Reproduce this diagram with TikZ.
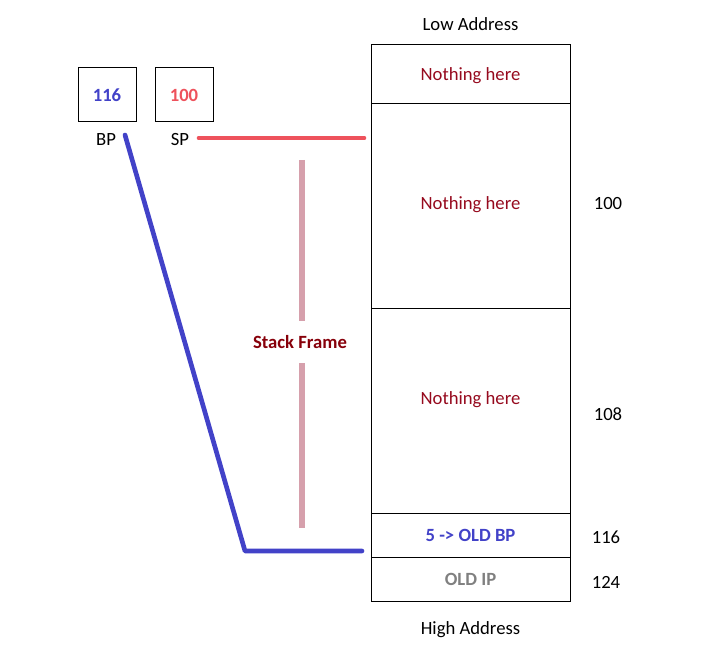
\documentclass[tikz,border=0pt]{standalone}
\usepackage{fontspec}
\setmainfont{Carlito}
\usepackage{tikz}

\definecolor{bpblue}{RGB}{66,66,200}
\definecolor{spred}{RGB}{238,82,92}
\definecolor{nothingred}{RGB}{150,10,30}
\definecolor{framered}{RGB}{135,0,10}
\definecolor{framepink}{RGB}{214,160,172}
\definecolor{ipgrey}{RGB}{128,128,128}

\begin{document}
\begin{tikzpicture}[x=0.75pt, y=-0.75pt,
    every node/.style={font=\fontsize{14}{17}\selectfont},
    cell/.style={draw, line width=0.75pt, minimum width=149.25pt, inner sep=0pt},
    regbox/.style={draw, line width=0.75pt, minimum width=43.5pt, minimum height=40.5pt, font=\fontsize{14}{17}\selectfont\bfseries},
    pointer/.style={line width=3.5pt, line cap=round, line join=round}]
    \useasboundingbox (0,0) rectangle (702,648);
    % Draw the stack cells
    \node[cell, minimum height=44.25pt] (low) at (470.5,74.5) {};
    \node[cell, minimum height=153pt] (mid) at (470.5,206) {};
    \node[cell, minimum height=153.75pt] (high) at (470.5,410.5) {};
    \node[cell, minimum height=33pt, text=bpblue, font=\fontsize{14}{17}\selectfont\bfseries] (oldbp) at (470.5,535) {5 -> OLD BP};
    \node[cell, minimum height=33pt, text=ipgrey, font=\fontsize{14}{17}\selectfont\bfseries] (oldip) at (470.5,579) {OLD IP};
    \node[text=nothingred] (lowtext) at (470.5,75.5) {Nothing here};
    \node[text=nothingred] (midtext) at (470.5,204.5) {Nothing here};
    \node[text=nothingred] (hightext) at (470.5,399.5) {Nothing here};
    % Draw the addresses
    \node (lowaddr) at (470.5,24) {Low Address};
    \node (highaddr) at (470.5,629.5) {High Address};
    \node (a100) at (608,204) {100};
    \node (a108) at (608,414) {108};
    \node (a116) at (606,537) {116};
    \node (a124) at (606,582) {124};
    % Draw the registers
    \node[regbox, text=bpblue] (bp) at (107,95) {116};
    \node[regbox, text=spred] (sp) at (184,95) {100};
    \node (bplabel) at (106,140) {BP};
    \node (splabel) at (180,140) {SP};
    % Draw the pointers
    \coordinate (spstart) at (199,138);
    \coordinate (spend) at (364,138);
    \coordinate (bpstart) at (125,135);
    \coordinate (bpbend) at (245,551);
    \coordinate (bpend) at (362,551);
    \draw[pointer, spred] (spstart) -- (spend);
    \draw[pointer, bpblue] (bpstart) -- (bpbend) -- (bpend);
    % Draw the stack frame
    \node[text=framered, font=\fontsize{14}{17}\selectfont\bfseries] (frame) at (300,342) {Stack Frame};
    \coordinate (frametop) at (302,160);
    \coordinate (framemidtop) at (302,321);
    \coordinate (framemidbottom) at (302,363);
    \coordinate (framebottom) at (302,528);
    \draw[framepink, line width=5pt] (frametop) -- (framemidtop);
    \draw[framepink, line width=5pt] (framemidbottom) -- (framebottom);
\end{tikzpicture}
\end{document}
